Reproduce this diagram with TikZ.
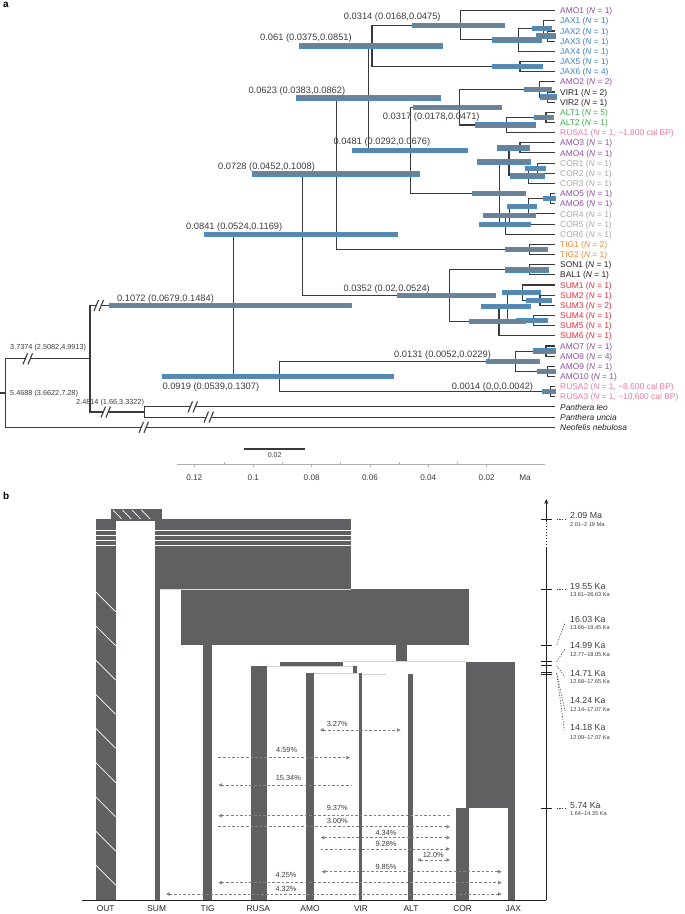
\documentclass[tikz,border=0pt]{standalone}
\usepackage{fontspec}
\setmainfont{Liberation Sans}
\usepackage{tikz}
\usetikzlibrary{arrows.meta}

\definecolor{treegrey}{HTML}{3A3A3A}
\definecolor{labgrey}{HTML}{3C3C3C}
\definecolor{hpdblue}{HTML}{4A8FC8}
\definecolor{hpdfill}{HTML}{6A8298}
\definecolor{camo}{HTML}{8E4FA3}
\definecolor{cjax}{HTML}{3F7FC0}
\definecolor{calt}{HTML}{3DAA4A}
\definecolor{crusa}{HTML}{E87AA0}
\definecolor{ccor}{HTML}{A8A8A8}
\definecolor{ctig}{HTML}{F0883A}
\definecolor{csum}{HTML}{E5303C}
\definecolor{cblk}{HTML}{222222}
\definecolor{demegrey}{HTML}{5F6062}
\definecolor{miggrey}{HTML}{808080}
\definecolor{axisgrey}{HTML}{B0B0B0}

% one tip of the tree: name, row, colour, label
\newcommand{\leaf}[4]{%
  \coordinate (#1) at (555,{10.7+10.16*#2});
  \node[tiplab,text=#3] (l#1) at (560,{13.8+10.16*#2}) {#4};}
% HPD bar: y, left, right
\newcommand{\hpdbar}[3]{\draw[hpd] (#2,{#1-2.2}) rectangle (#3,{#1+2.2});}
% axis break on a branch
\newcommand{\cut}[2]{%
  \fill[white] ({#1-3},{#2+5.5}) -- ({#1+1.5},{#2-5.5}) -- ({#1+6.5},{#2-5.5}) -- ({#1+2},{#2+5.5}) -- cycle;
  \draw[branch] ({#1-3},{#2+5.5}) -- ({#1+1.5},{#2-5.5}) ({#1+2},{#2+5.5}) -- ({#1+6.5},{#2-5.5});}

\begin{document}
\begin{tikzpicture}[x=1pt,y=-1pt,
    branch/.style={draw=treegrey, line width=1.1pt},
    hpd/.style={draw=hpdblue, fill=hpdfill, line width=0.9pt},
    agelab/.style={anchor=base west, inner sep=0pt, text=labgrey, font=\fontsize{9.3}{10}\selectfont},
    deeplab/.style={anchor=base west, inner sep=0pt, text=labgrey, font=\fontsize{7.3}{8}\selectfont},
    tiplab/.style={anchor=base west, inner sep=0pt, font=\fontsize{8.4}{10}\selectfont},
    ticklab/.style={anchor=base, inner sep=0pt, text=labgrey, font=\fontsize{8.2}{10}\selectfont},
    deme/.style={fill=demegrey},
    mig/.style={draw=miggrey, line width=0.8pt, dash pattern=on 2.6pt off 2pt,
      >={Triangle[length=3.6pt,width=3.4pt]}},
    pct/.style={anchor=base, inner sep=0pt, text=labgrey, font=\fontsize{7.4}{8}\selectfont},
    poplab/.style={anchor=base, inner sep=0pt, text=cblk, font=\fontsize{8.4}{10}\selectfont},
    epoch/.style={anchor=base west, inner sep=0pt, text=labgrey, font=\fontsize{8.8}{10}\selectfont},
    epochci/.style={anchor=base west, inner sep=0pt, text=labgrey, font=\fontsize{5.6}{6}\selectfont},
    lead/.style={draw=labgrey, line width=0.6pt, dash pattern=on 1.2pt off 1.5pt},
    panel/.style={anchor=north west, inner sep=0pt, font=\bfseries\fontsize{10}{12}\selectfont}]
  \useasboundingbox (0,0) rectangle (685,914);

  %%% panel a
  \node[panel] (pa) at (3,2) {a};

  % tips
  \leaf{amo1}{0}{camo}{AMO1 (\textit{N} = 1)}
  \leaf{jax1}{1}{cjax}{JAX1 (\textit{N} = 1)}
  \leaf{jax2}{2}{cjax}{JAX2 (\textit{N} = 1)}
  \leaf{jax3}{3}{cjax}{JAX3 (\textit{N} = 1)}
  \leaf{jax4}{4}{cjax}{JAX4 (\textit{N} = 1)}
  \leaf{jax5}{5}{cjax}{JAX5 (\textit{N} = 1)}
  \leaf{jax6}{6}{cjax}{JAX6 (\textit{N} = 4)}
  \leaf{amo2}{7}{camo}{AMO2 (\textit{N} = 2)}
  \leaf{vir1}{8}{cblk}{VIR1 (\textit{N} = 2)}
  \leaf{vir2}{9}{cblk}{VIR2 (\textit{N} = 1)}
  \leaf{alt1}{10}{calt}{ALT1 (\textit{N} = 5)}
  \leaf{alt2}{11}{calt}{ALT2 (\textit{N} = 1)}
  \leaf{rusa1}{12}{crusa}{RUSA1 (\textit{N} = 1, \textasciitilde1,800 cal BP)}
  \leaf{amo3}{13}{camo}{AMO3 (\textit{N} = 1)}
  \leaf{amo4}{14}{camo}{AMO4 (\textit{N} = 1)}
  \leaf{cor1}{15}{ccor}{COR1 (\textit{N} = 1)}
  \leaf{cor2}{16}{ccor}{COR2 (\textit{N} = 1)}
  \leaf{cor3}{17}{ccor}{COR3 (\textit{N} = 1)}
  \leaf{amo5}{18}{camo}{AMO5 (\textit{N} = 1)}
  \leaf{amo6}{19}{camo}{AMO6 (\textit{N} = 1)}
  \leaf{cor4}{20}{ccor}{COR4 (\textit{N} = 1)}
  \leaf{cor5}{21}{ccor}{COR5 (\textit{N} = 1)}
  \leaf{cor6}{22}{ccor}{COR6 (\textit{N} = 1)}
  \leaf{tig1}{23}{ctig}{TIG1 (\textit{N} = 2)}
  \leaf{tig2}{24}{ctig}{TIG2 (\textit{N} = 1)}
  \leaf{son1}{25}{cblk}{SON1 (\textit{N} = 1)}
  \leaf{bal1}{26}{cblk}{BAL1 (\textit{N} = 1)}
  \leaf{sum1}{27}{csum}{SUM1 (\textit{N} = 1)}
  \leaf{sum2}{28}{csum}{SUM2 (\textit{N} = 1)}
  \leaf{sum3}{29}{csum}{SUM3 (\textit{N} = 2)}
  \leaf{sum4}{30}{csum}{SUM4 (\textit{N} = 1)}
  \leaf{sum5}{31}{csum}{SUM5 (\textit{N} = 1)}
  \leaf{sum6}{32}{csum}{SUM6 (\textit{N} = 1)}
  \leaf{amo7}{33}{camo}{AMO7 (\textit{N} = 1)}
  \leaf{amo8}{34}{camo}{AMO8 (\textit{N} = 4)}
  \leaf{amo9}{35}{camo}{AMO9 (\textit{N} = 1)}
  \leaf{amo10}{36}{camo}{AMO10 (\textit{N} = 1)}
  \leaf{rusa2}{37}{crusa}{RUSA2 (\textit{N} = 1, \textasciitilde8,600 cal BP)}
  \leaf{rusa3}{38}{crusa}{RUSA3 (\textit{N} = 1, \textasciitilde10,600 cal BP)}
  \leaf{leo}{39}{cblk}{\textit{Panthera leo}}
  \leaf{uncia}{40}{cblk}{\textit{Panthera uncia}}
  \leaf{neo}{41}{cblk}{\textit{Neofelis nebulosa}}

  % internal nodes
  \coordinate (stub) at (0,393.03);
  \coordinate (root) at (5.7,393.03);
  \coordinate (n37) at (90,358.79);
  \coordinate (n24) at (144.3,412.02);
  \coordinate (n1072) at (233.4,305.55);
  \coordinate (n0919) at (279.3,376.46);
  \coordinate (n0841) at (302.7,234.64);
  \coordinate (n0728) at (336.6,173.78);
  \coordinate (n0623) at (368.1,98.1);
  \coordinate (n061) at (372,45.95);
  \coordinate (n0314) at (460.8,25.31);
  \coordinate (njax14) at (518.3,39.91);
  \coordinate (njax13) at (543.3,28.48);
  \coordinate (njax23) at (547.3,36.1);
  \coordinate (njax56) at (520,66.58);
  \coordinate (n0481) at (410.7,150.24);
  \coordinate (n0317) at (459.9,107.22);
  \coordinate (namovir) at (539.3,89.44);
  \coordinate (nvir) at (547.3,97.06);
  \coordinate (naltrusa) at (506.7,125);
  \coordinate (nalt) at (546,117.38);
  \coordinate (nh) at (499.3,193.26);
  \coordinate (nc) at (509,161.83);
  \coordinate (na) at (520,147.86);
  \coordinate (ncor2) at (528.3,175.8);
  \coordinate (ncor1) at (537.3,168.18);
  \coordinate (ng) at (505.7,224.7);
  \coordinate (nf) at (509.3,215.17);
  \coordinate (ne) at (528.3,206.28);
  \coordinate (nd) at (550.7,198.66);
  \coordinate (ntig) at (529.3,249.46);
  \coordinate (n0352) at (449.4,295.5);
  \coordinate (nsb) at (529.3,269.78);
  \coordinate (nsum) at (499,321.22);
  \coordinate (nsum15) at (507.7,306.61);
  \coordinate (nsum13) at (522.3,292.64);
  \coordinate (nsum23) at (540,300.26);
  \coordinate (nsum45) at (533.3,320.58);
  \coordinate (n0131) at (515.7,361.22);
  \coordinate (namo78) at (546,351.06);
  \coordinate (namo910) at (547.3,371.38);
  \coordinate (n0014) at (550.8,391.7);

  % branches
  \draw[branch] (stub) -- (root);
  \draw[branch] (root) |- (n37) (root) |- (neo);
  \draw[branch] (n37) |- (n1072) (n37) |- (n24);
  \draw[branch] (n24) |- (leo) (n24) |- (uncia);
  \draw[branch] (n1072) |- (n0841) (n1072) |- (n0919);
  \draw[branch] (n0841) |- (n0728) (n0841) |- (n0352);
  \draw[branch] (n0728) |- (n0623) (n0728) |- (ntig);
  \draw[branch] (n0623) |- (n061) (n0623) |- (n0481);
  \draw[branch] (n061) |- (n0314) (n061) |- (njax56);
  \draw[branch] (n0314) |- (amo1) (n0314) |- (njax14);
  \draw[branch] (njax14) |- (njax13) (njax14) |- (jax4);
  \draw[branch] (njax13) |- (jax1) (njax13) |- (njax23);
  \draw[branch] (njax23) |- (jax2) (njax23) |- (jax3);
  \draw[branch] (njax56) |- (jax5) (njax56) |- (jax6);
  \draw[branch] (n0481) |- (n0317) (n0481) |- (nh);
  \draw[branch] (n0317) |- (namovir) (n0317) |- (naltrusa);
  \draw[branch] (namovir) |- (amo2) (namovir) |- (nvir);
  \draw[branch] (nvir) |- (vir1) (nvir) |- (vir2);
  \draw[branch] (naltrusa) |- (nalt) (naltrusa) |- (rusa1);
  \draw[branch] (nalt) |- (alt1) (nalt) |- (alt2);
  \draw[branch] (nh) |- (nc) (nh) |- (ng);
  \draw[branch] (nc) |- (na) (nc) |- (ncor2);
  \draw[branch] (na) |- (amo3) (na) |- (amo4);
  \draw[branch] (ncor2) |- (ncor1) (ncor2) |- (cor3);
  \draw[branch] (ncor1) |- (cor1) (ncor1) |- (cor2);
  \draw[branch] (ng) |- (nf) (ng) |- (cor6);
  \draw[branch] (nf) |- (ne) (nf) |- (cor5);
  \draw[branch] (ne) |- (nd) (ne) |- (cor4);
  \draw[branch] (nd) |- (amo5) (nd) |- (amo6);
  \draw[branch] (ntig) |- (tig1) (ntig) |- (tig2);
  \draw[branch] (n0352) |- (nsb) (n0352) |- (nsum);
  \draw[branch] (nsb) |- (son1) (nsb) |- (bal1);
  \draw[branch] (nsum) |- (nsum15) (nsum) |- (sum6);
  \draw[branch] (nsum15) |- (nsum13) (nsum15) |- (nsum45);
  \draw[branch] (nsum13) |- (sum1) (nsum13) |- (nsum23);
  \draw[branch] (nsum23) |- (sum2) (nsum23) |- (sum3);
  \draw[branch] (nsum45) |- (sum4) (nsum45) |- (sum5);
  \draw[branch] (n0919) |- (n0131) (n0919) |- (n0014);
  \draw[branch] (n0131) |- (namo78) (n0131) |- (namo910);
  \draw[branch] (namo78) |- (amo7) (namo78) |- (amo8);
  \draw[branch] (namo910) |- (amo9) (namo910) |- (amo10);
  \draw[branch] (n0014) |- (rusa2) (n0014) |- (rusa3);

  % broken long branches
  \cut{26}{358.79}
  \cut{97}{305.55}
  \cut{104}{412.02}
  \cut{191}{406.94}
  \cut{207}{417.1}
  \cut{142}{427.26}

  % 95% HPD bars
  \hpdbar{25.31}{412.5}{504.6}
  \hpdbar{45.95}{299.7}{442.5}
  \hpdbar{98.1}{296.4}{440.1}
  \hpdbar{107.22}{413.7}{501.6}
  \hpdbar{150.24}{352.2}{467.4}
  \hpdbar{173.78}{252.6}{419.4}
  \hpdbar{234.64}{204.3}{397.8}
  \hpdbar{295.5}{397.8}{495}
  \hpdbar{305.55}{109.8}{351.3}
  \hpdbar{376.46}{162.9}{393.3}
  \hpdbar{361.22}{486.3}{539.4}
  \hpdbar{391.7}{542.4}{555}
  \hpdbar{36.1}{536.7}{555}
  \hpdbar{28.48}{532.3}{551.7}
  \hpdbar{39.91}{492.3}{541.7}
  \hpdbar{66.58}{492.3}{542.3}
  \hpdbar{97.06}{540.7}{556}
  \hpdbar{89.44}{524}{551.7}
  \hpdbar{117.38}{534}{553.3}
  \hpdbar{125}{475.7}{535}
  \hpdbar{147.86}{497.3}{529.3}
  \hpdbar{168.18}{525}{545}
  \hpdbar{175.8}{510}{544.3}
  \hpdbar{161.83}{477.3}{530}
  \hpdbar{198.66}{543.3}{555}
  \hpdbar{206.28}{507.7}{536.7}
  \hpdbar{215.17}{483.3}{535.7}
  \hpdbar{224.7}{479}{530.7}
  \hpdbar{193.26}{472.7}{525}
  \hpdbar{249.46}{505}{547.7}
  \hpdbar{269.78}{505.7}{548.7}
  \hpdbar{300.26}{526.7}{551.7}
  \hpdbar{292.64}{502.3}{540.7}
  \hpdbar{320.58}{516}{547.7}
  \hpdbar{306.61}{481.7}{530.7}
  \hpdbar{321.22}{469}{525}
  \hpdbar{351.06}{533.3}{555}
  \hpdbar{371.38}{537.3}{555.7}

  % node ages
  \node[agelab] (a0314) at (343.7,19.3) {0.0314 (0.0168,0.0475)};
  \node[agelab] (a061) at (260,40.3) {0.061 (0.0375,0.0851)};
  \node[agelab] (a0623) at (248.3,93) {0.0623 (0.0383,0.0862)};
  \node[agelab] (a0317) at (382.7,119.3) {0.0317 (0.0178,0.0471)};
  \node[agelab] (a0481) at (333.3,144.3) {0.0481 (0.0292,0.0676)};
  \node[agelab] (a0728) at (218,169.3) {0.0728 (0.0452,0.1008)};
  \node[agelab] (a0841) at (186,229.3) {0.0841 (0.0524,0.1169)};
  \node[agelab] (a0352) at (343.3,291.6) {0.0352 (0.02,0.0524)};
  \node[agelab] (a1072) at (117,301) {0.1072 (0.0679,0.1484)};
  \node[agelab] (a0919) at (162.3,389.3) {0.0919 (0.0539,0.1307)};
  \node[agelab] (a0131) at (394,357.6) {0.0131 (0.0052,0.0229)};
  \node[agelab] (a0014) at (451.7,389.3) {0.0014 (0,0,0.0042)};
  \node[deeplab] (a37) at (10,349.5) {3.7374 (2.5082,4.9913)};
  \node[deeplab] (a54) at (10,395) {5.4688 (3.6622,7.28)};
  \node[deeplab] (a24) at (76,404.4) {2.4814 (1.66,3.3322)};

  % scale bar and time axis
  \coordinate (sbl) at (244.3,449);
  \coordinate (sbr) at (305,449);
  \draw[line width=1.8pt, treegrey] (sbl) -- node[below=2.5pt, inner sep=0pt, text=labgrey, font=\fontsize{7}{8}\selectfont] (sblab) {0.02} (sbr);
  \draw[axisgrey, line width=0.6pt] (176.7,464.3) -- (545,464.3);
  \foreach \tx/\tl in {194.3/0.12, 253.3/0.1, 311.7/0.08, 370/0.06, 428.3/0.04, 486.7/0.02}{
    \draw[axisgrey, line width=0.6pt] (\tx,464.3) -- (\tx,467);
    \node[ticklab] at (\tx,480) {\tl};}
  \foreach \tx in {224,282.3,340.7,399,457.3}
    \draw[axisgrey, line width=0.6pt] (\tx,464.3) -- (\tx,462);
  \node[ticklab] (ma) at (525,480) {Ma};

  %%% panel b
  \node[panel] (pb) at (3,492) {b};

  % ancestral blocks
  \fill[deme] (110.7,509.3) rectangle (161.7,519.8);
  \foreach \h in {113,122.5,132,141.5}
    \draw[white, line width=0.7pt] (\h,510) -- ({\h+9},519.3);
  \fill[deme] (95.7,519.3) rectangle (350.7,589);
  \fill[white] (115.7,520.7) rectangle (155,589);
  \foreach \w in {530.7,535.7,540.7,545.7}{
    \draw[white, line width=0.8pt] (95.7,\w) -- (115.7,\w);
    \draw[white, line width=0.8pt] (155,\w) -- (350.7,\w);}
  \fill[deme] (181,589) rectangle (469.3,645);
  \draw[gray!30, line width=0.5pt] (154.5,589) -- (350.7,589);

  % OUT (hatched) and SUM
  \fill[deme] (95.7,589) rectangle (115.7,900);
  \foreach \k in {0,...,8}
    \draw[white, line width=0.7pt] (95.7,{591.7+34.18*\k}) -- (115.7,{611.7+34.18*\k});
  \fill[deme] (154.5,589) rectangle (159.5,900);

  % TIG and the rest
  \fill[deme] (202.7,645) rectangle (212.3,900);
  \fill[deme] (395.5,645) rectangle (407,661.7);
  \fill[deme] (280,661.7) rectangle (342.7,665.7);
  \fill[deme] (353.3,665.7) rectangle (356.7,673.3);
  \fill[deme] (250.7,665.7) rectangle (266.7,900);
  \fill[deme] (305.7,673.3) rectangle (314.3,900);
  \fill[deme] (358.5,673.3) rectangle (362.3,900);
  \fill[deme] (407.7,674.3) rectangle (413.3,900);
  \fill[deme] (466,661.7) rectangle (515,808.3);
  \fill[deme] (455.7,808.3) rectangle (469,900);
  \fill[deme] (508,808.3) rectangle (515,900);
  \draw[gray!35, line width=0.5pt] (342.7,661.7) -- (466,661.7);
  \draw[gray!35, line width=0.5pt] (266.7,666) -- (353.3,666);
  \draw[gray!35, line width=0.5pt] (314.3,673.5) -- (358.5,673.5);
  \draw[gray!35, line width=0.5pt] (362.3,674) -- (385.7,674);

  % migration
  \draw[mig,<->] (320,730) -- (400.7,730);
  \node[pct] (m1) at (337.3,726) {3.27\%};
  \draw[mig,->] (218.3,757.7) -- (350,757.7);
  \node[pct] (m2) at (286.7,752.6) {4.59\%};
  \draw[mig,<-] (218.3,785) -- (350.7,785);
  \node[pct] (m3) at (288.3,780.3) {15.34\%};
  \draw[mig,<-] (218.3,815.7) -- (450,815.7);
  \node[pct] (m4) at (337.3,810) {9.37\%};
  \draw[mig,->] (218.3,826.7) -- (450,826.7);
  \node[pct] (m5) at (337.3,823.6) {3.00\%};
  \draw[mig,<->] (320.7,837.7) -- (450,837.7);
  \node[pct] (m6) at (386,835.3) {4.34\%};
  \draw[mig,->] (320.7,849) -- (450,849);
  \node[pct] (m7) at (386,846.6) {9.28\%};
  \draw[mig,<->] (417.3,860) -- (450,860);
  \node[pct] (m8) at (433.3,857.6) {12.0\%};
  \draw[mig,<->] (321.7,871.7) -- (501.7,871.7);
  \node[pct] (m9) at (386,869.3) {9.85\%};
  \draw[mig,<->] (218.3,882.7) -- (501.7,882.7);
  \node[pct] (m10) at (286,877.9) {4.25\%};
  \draw[mig,<->] (166,894) -- (501.7,894);
  \node[pct] (m11) at (286,891.6) {4.32\%};

  % axes
  \draw[cblk, line width=0.9pt] (82,900) -- (546.3,900);
  \draw[cblk, line width=0.9pt] (546.3,900) -- (546.3,548);
  \draw[cblk, line width=0.9pt, dash pattern=on 1.5pt off 1.5pt] (546.3,548) -- (546.3,522);
  \draw[cblk, line width=0.9pt, -{Stealth[length=5pt,width=4pt]}] (546.3,522) -- (546.3,499);
  \foreach \t in {519.3,589,645,661.7,665.7,672.6,674.2,808.3}
    \draw[cblk, line width=1pt] (540.7,\t) -- (551.7,\t);

  % population names
  \node[poplab] (pout) at (105.7,911.5) {OUT};
  \node[poplab] (psum) at (156.7,911.5) {SUM};
  \node[poplab] (ptig) at (207.7,911.5) {TIG};
  \node[poplab] (prusa) at (258.3,911.5) {RUSA};
  \node[poplab] (pamo) at (310,911.5) {AMO};
  \node[poplab] (pvir) at (361,911.5) {VIR};
  \node[poplab] (palt) at (411,911.5) {ALT};
  \node[poplab] (pcor) at (462.7,911.5) {COR};
  \node[poplab] (pjax) at (513.3,911.5) {JAX};

  % split times
  \draw[lead] (556.7,519.3) -- (565,519.3);
  \node[epoch] (e1) at (570,518.9) {2.09 Ma};
  \node[epochci] (c1) at (570,526) {2.01--2.19 Ma};
  \draw[lead] (556.7,589) -- (565,589);
  \node[epoch] (e2) at (570,589.2) {19.55 Ka};
  \node[epochci] (c2) at (570,596.3) {13.61--26.63 Ka};
  \draw[lead] (556.7,645) -- (565,623);
  \node[epoch] (e3) at (570,622.5) {16.03 Ka};
  \node[epochci] (c3) at (570,629.7) {13.66--19.45 Ka};
  \draw[lead] (556.7,661.7) -- (565,649);
  \node[epoch] (e4) at (570,648.9) {14.99 Ka};
  \node[epochci] (c4) at (570,656) {12.77--18.05 Ka};
  \draw[lead] (556.7,665.7) -- (565,677);
  \node[epoch] (e5) at (570,676.5) {14.71 Ka};
  \node[epochci] (c5) at (570,683.7) {12.68--17.65 Ka};
  \draw[lead] (556.7,673.3) -- (565,711);
  \node[epoch] (e6) at (570,703.9) {14.24 Ka};
  \node[epochci] (c6) at (570,711.3) {12.14--17.07 Ka};
  \draw[lead] (556.7,673.3) -- (564.3,730);
  \node[epoch] (e7) at (570,730.9) {14.18 Ka};
  \node[epochci] (c7) at (570,739) {12.09--17.07 Ka};
  \draw[lead] (556.7,808.3) -- (566,808.3);
  \node[epoch] (e8) at (570,808.2) {5.74 Ka};
  \node[epochci] (c8) at (570,815.7) {1.64--14.35 Ka};
\end{tikzpicture}
\end{document}
